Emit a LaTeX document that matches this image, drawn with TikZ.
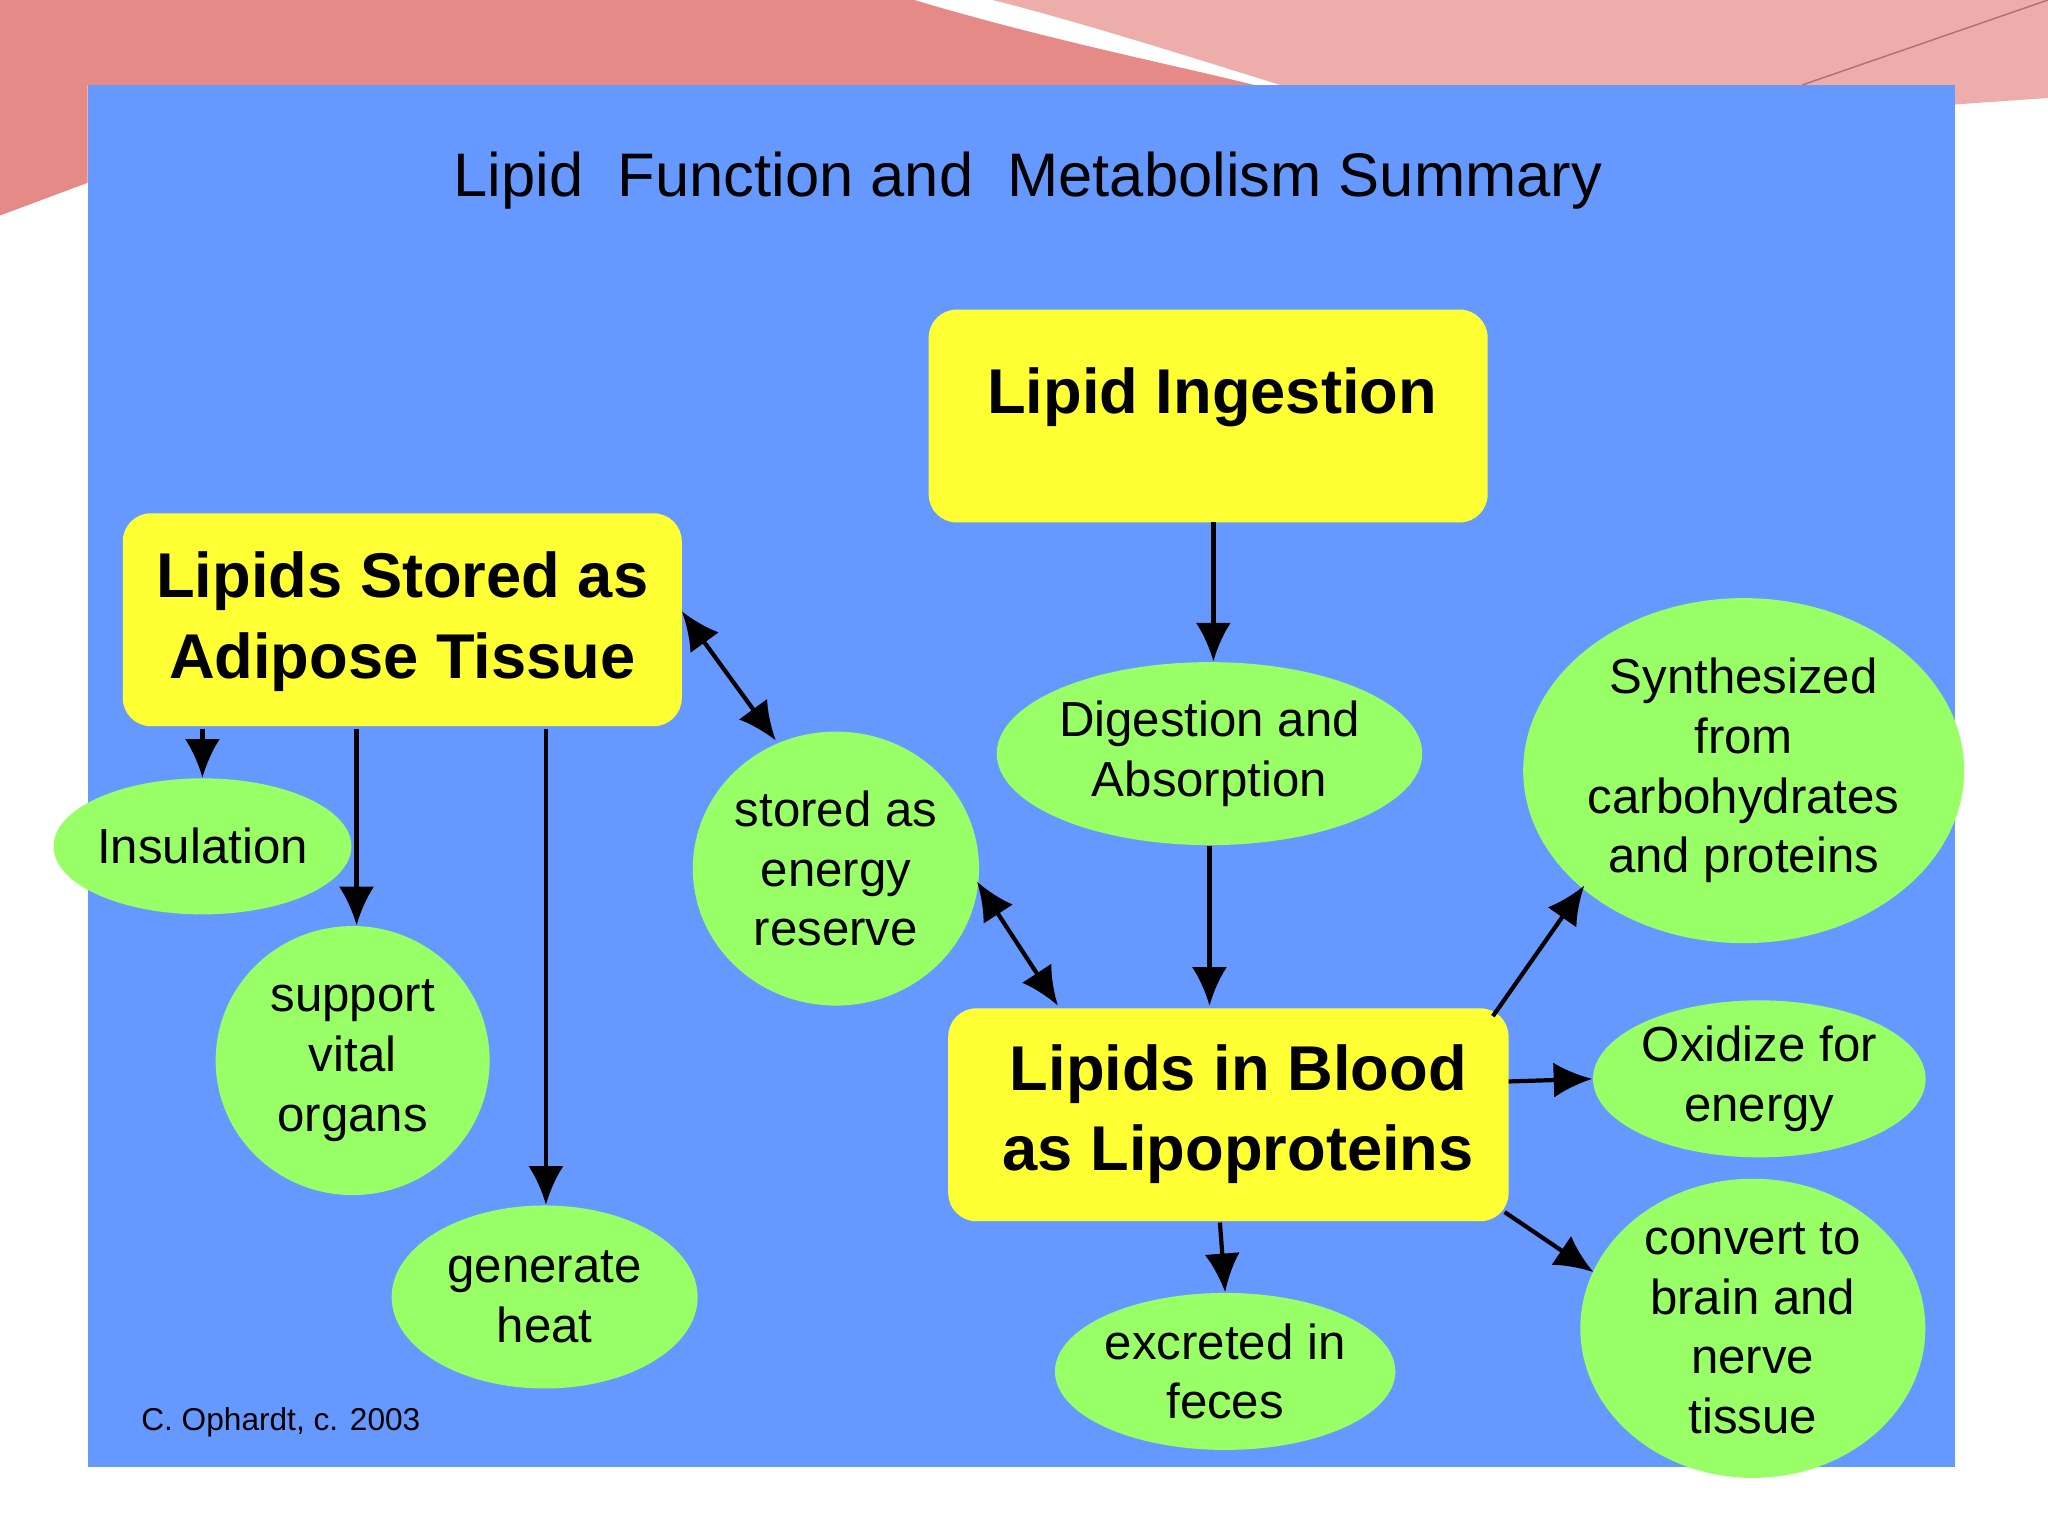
\documentclass[tikz,border=0pt]{standalone}
\usepackage{fontspec}
\setmainfont{Liberation Sans}
\usetikzlibrary{shapes.geometric,arrows.meta,calc}
\definecolor{bg}{HTML}{6699FF}
\definecolor{yel}{HTML}{FFFF33}
\definecolor{grn}{HTML}{99FF66}
\definecolor{sal}{HTML}{E58A86}
\begin{document}
\begin{tikzpicture}[x=0.013061cm,y=-0.013061cm,
  bt/.style={align=center,font=\bfseries\fontsize{18}{23}\selectfont},
  ell/.style={ellipse,fill=grn,draw=none,align=center,font=\fontsize{14}{17}\selectfont,inner sep=0pt},
  arr/.style={line width=1.2pt,-{Latex[length=11pt,width=10pt]}},
  darr/.style={line width=1.2pt,{Latex[length=11pt,width=10pt]}-{Latex[length=11pt,width=10pt]}}]
\useasboundingbox (0,0) rectangle (1568,1176);
\fill[white] (0,0) rectangle (1568,1176);
\fill[sal] (0,0) -- (700,0) .. controls (800,30) and (900,50) .. (960,65) -- (67,65) -- (67,140) -- (0,165) -- cycle;
\fill[sal!70] (760,0) -- (1568,0) -- (1568,75) -- (1497,80) -- (1380,65) -- (980,65) .. controls (900,40) and (820,15) .. (760,0) -- cycle;
\draw[sal!80!black,thin] (1380,65) -- (1568,0);
\fill[bg] (67,65) rectangle (1497,1123);
\node (title) at (787,138) {\fontsize{17.5}{21}\selectfont Lipid\ \ Function and\ \ Metabolism Summary};
\fill[yel,rounded corners=8pt] (711,237) rectangle (1139,400);
\node[bt] (ing) at (928,304) {Lipid Ingestion};
\fill[yel,rounded corners=8pt] (94,393) rectangle (522,556);
\node[bt] (stored) at (308,476) {Lipids Stored as\\Adipose Tissue};
\fill[yel,rounded corners=8pt] (726,772) rectangle (1155,935);
\node[bt] (blood) at (948,853) {Lipids in Blood\\as Lipoproteins};
\node[ell,minimum width=2.30cm,minimum height=1.36cm] (ins) at (155,648) {Insulation};
\node[ell,minimum width=2.74cm,minimum height=2.69cm] (sup) at (270,812) {support\\vital\\organs};
\node[ell,minimum width=3.06cm,minimum height=1.83cm] (heat) at (417,993) {generate\\heat};
\node[ell,minimum width=2.82cm,minimum height=2.74cm] (res) at (640,665) {stored as\\energy\\reserve};
\node[ell,minimum width=4.23cm,minimum height=1.83cm] (dig) at (926,577) {Digestion and\\Absorption};
\node[ell,minimum width=4.31cm,minimum height=3.45cm] (syn) at (1335,590) {Synthesized\\from\\carbohydrates\\and proteins};
\node[ell,minimum width=2.87cm,minimum height=1.57cm] (ox) at (1347,826) {Oxidize for\\energy};
\node[ell,minimum width=3.45cm,minimum height=2.93cm] (conv) at (1342,1017) {convert to\\brain and\\nerve\\tissue};
\node[ell,minimum width=3.06cm,minimum height=1.57cm] (exc) at (938,1050) {excreted in\\feces};
\node[font=\fontsize{9}{11}\selectfont] (cred) at (215,1089) {C. Ophardt, c. 2003};
\coordinate (sb) at (0,558);
\draw[arr] (sb -| ins) -- (ins.north);
\draw[arr] (273,558) coordinate (a1) -- (a1 |- sup.north);
\draw[arr] (418,558) coordinate (a2) -- (a2 |- heat.north);
\draw[arr] (929,400) coordinate (a3) -- (a3 |- dig.north);
\draw[arr] (dig.south) -- (dig.south |- 0,770);
\draw[darr] (522,468) coordinate (a4) -- (594,567);
\draw[darr] (748,675) -- (810,770) coordinate (a5);
\draw[arr] (1143,778) coordinate (a6) -- (1213,678);
\draw[arr] (1155,828) coordinate (a7) -- (ox.west);
\draw[arr] (1152,928) coordinate (a8) -- (1220,974);
\draw[arr] (934,936) coordinate (a9) -- (exc.north);
\end{tikzpicture}
\end{document}
